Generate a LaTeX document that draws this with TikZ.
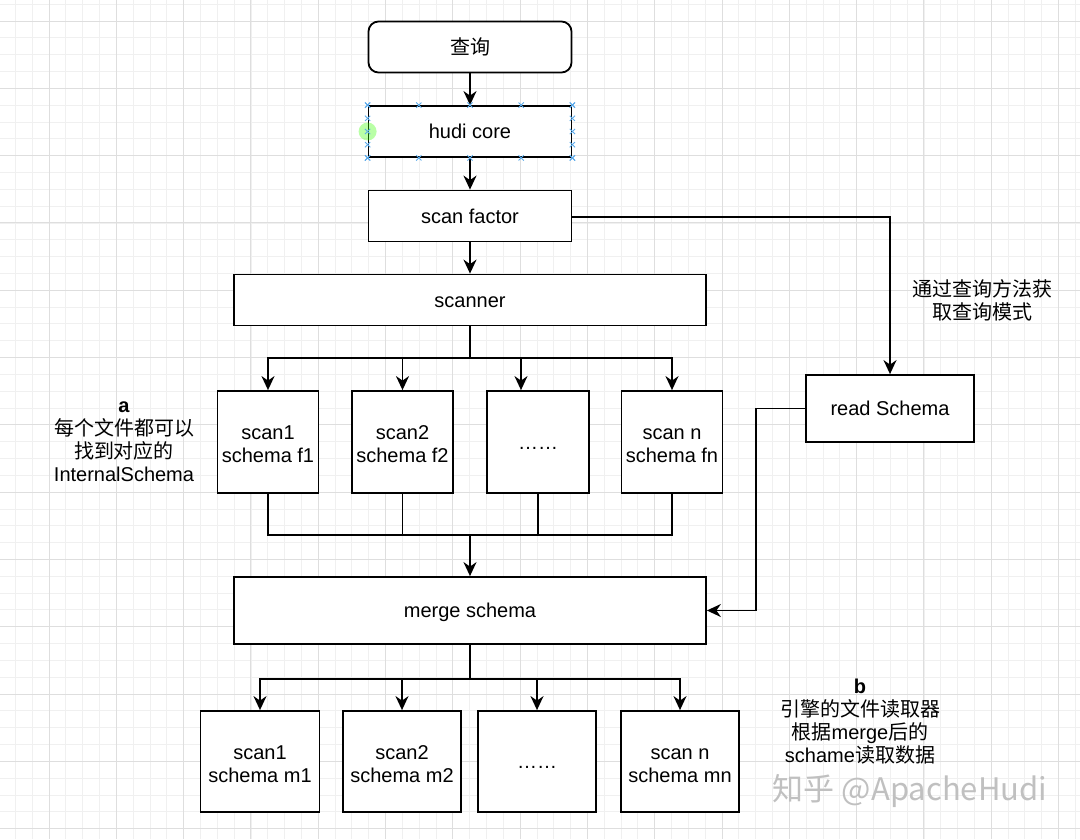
\documentclass[tikz,border=0pt]{standalone}
\usepackage{fontspec}
\setmainfont{Liberation Sans}
\newfontfamily\cjk{Noto Sans CJK SC}
\usetikzlibrary{arrows.meta,calc}
\definecolor{gridminor}{RGB}{240,240,240}
\definecolor{gridmajor}{RGB}{222,222,222}
\definecolor{handleblue}{RGB}{90,170,235}
\definecolor{wmgray}{RGB}{192,192,192}
\newcommand\mytstrut{\rule{0pt}{18.5pt}}
\tikzset{
  box/.style={draw=black, line width=1.8pt, fill=white, inner sep=0pt, align=center,
    font=\fontsize{20}{23}\selectfont},
  oneline/.style={text height=17pt, text depth=3pt},
  arr/.style={line width=1.8pt, -{Stealth[length=14pt,width=13pt,inset=4.5pt]}},
  ln/.style={line width=1.8pt},
  lbl/.style={align=center, inner sep=0pt, font=\fontsize{20}{23}\selectfont},
  handle/.style={draw=handleblue, line width=0.9pt}
}
\begin{document}
\begin{tikzpicture}[x=1pt,y=-1pt]
\useasboundingbox (0,0) rectangle (1080,839);
\fill[white] (0,0) rectangle (1080,839);
% grid
\foreach \i in {-2,...,62} {
  \draw[gridminor, line width=0.8pt] ({49+16.825*\i},0) -- ({49+16.825*\i},839);
}
\foreach \i in {-1,...,48} {
  \draw[gridminor, line width=0.8pt] (0,{21+16.825*\i}) -- (1080,{21+16.825*\i});
}
\foreach \i in {-1,...,15} {
  \draw[gridmajor, line width=0.9pt] ({49+67.3*\i},0) -- ({49+67.3*\i},839);
}
\foreach \i in {0,...,12} {
  \draw[gridmajor, line width=0.9pt] (0,{21+67.3*\i}) -- (1080,{21+67.3*\i});
}

% nodes
\node[box, oneline, rounded corners=10pt, minimum width=203pt, minimum height=51pt] (q) at (470,47) {\cjk 查询};
\node[box, oneline, minimum width=203pt, minimum height=51pt] (hc) at (470,131.5) {hudi core};
\node[box, oneline, minimum width=203pt, minimum height=51pt] (sf) at (470,216) {scan factor};
\node[box, oneline, minimum width=472pt, minimum height=51pt] (sc) at (470,300) {scanner};

\node[box, minimum width=101pt, minimum height=102pt] (f1) at (268,442) {\mytstrut scan1\\schema f1};
\node[box, minimum width=101pt, minimum height=102pt] (f2) at (402.5,442) {\mytstrut scan2\\schema f2};
\node[box, oneline, minimum width=102pt, minimum height=102pt] (f3) at (538,442) {……};
\node[box, minimum width=101pt, minimum height=102pt] (f4) at (672,442) {\mytstrut scan n\\schema fn};

\node[box, oneline, minimum width=168pt, minimum height=67pt] (rs) at (890,408.5) {read Schema};
\node[box, oneline, minimum width=472pt, minimum height=67pt] (ms) at (470,610.5) {merge schema};

\node[box, minimum width=119pt, minimum height=101pt] (m1) at (260,761.5) {\mytstrut scan1\\schema m1};
\node[box, minimum width=118pt, minimum height=101pt] (m2) at (402,761.5) {\mytstrut scan2\\schema m2};
\node[box, oneline, minimum width=118pt, minimum height=101pt] (m3) at (537,761.5) {……};
\node[box, minimum width=118pt, minimum height=101pt] (m4) at (680,761.5) {\mytstrut scan n\\schema mn};

% labels
\node[lbl] (la) at (982,300.5) {\cjk 通过查询方法获\\\cjk 取查询模式};
\node[lbl] (lA) at (124,441.5) {\textbf{a}\\{\cjk 每个文件都可以}\\{\cjk 找到对应的}\\InternalSchema};
\node[lbl] (lB) at (860,722) {\textbf{b}\\{\cjk 引擎的文件读取器}\\{\cjk 根据}merge{\cjk 后的}\\schame{\cjk 读取数据}};
\node[inner sep=0pt, text=wmgray, font=\cjk\fontsize{31}{34}\selectfont] (wm) at (910,791) {知乎 @ApacheHudi};

% connectors
\draw[arr] (q.south) -- (hc.north);
\draw[arr] (hc.south) -- (sf.north);
\draw[arr] (sf.south) -- (sc.north);

\coordinate (b1) at (470,358);
\draw[ln] (sc.south) -- (b1);
\draw[arr] (b1) -| (f1.north);
\draw[arr] (b1) -| (f2.north);
\draw[arr] (b1) -| ([xshift=-17pt]f3.north);
\draw[arr] (b1) -| (f4.north);

\coordinate (b2) at (470,535);
\draw[ln] (f1.south) |- (b2);
\draw[ln] (f2.south) |- (b2);
\draw[ln] (f3.south) |- (b2);
\draw[ln] (f4.south) |- (b2);
\draw[arr] (b2) -- (ms.north);

\draw[arr] ([yshift=-1pt]sf.east) -| (rs.north);
\coordinate (rb) at (756,408.5);
\draw[arr] (rs.west) -- (rb) |- (ms.east);

\coordinate (b3) at (470,679);
\draw[ln] (ms.south) -- (b3);
\draw[arr] (b3) -| (m1.north);
\draw[arr] (b3) -| (m2.north);
\draw[arr] (b3) -| (m3.north);
\draw[arr] (b3) -| (m4.north);

% selection handles on hudi core
\fill[green!70!lime, opacity=0.35] (hc.west) circle (9pt);
\foreach \t in {0,0.25,0.5,0.75,1} {
  \foreach \a/\b in {north west/north east, south west/south east, north west/south west, north east/south east} {
    \coordinate (hp) at ($(hc.\a)!\t!(hc.\b)$);
    \draw[handle] ($(hp)+(-2.6,-2.6)$) -- ($(hp)+(2.6,2.6)$);
    \draw[handle] ($(hp)+(-2.6,2.6)$) -- ($(hp)+(2.6,-2.6)$);
  }
}
\end{tikzpicture}
\end{document}
